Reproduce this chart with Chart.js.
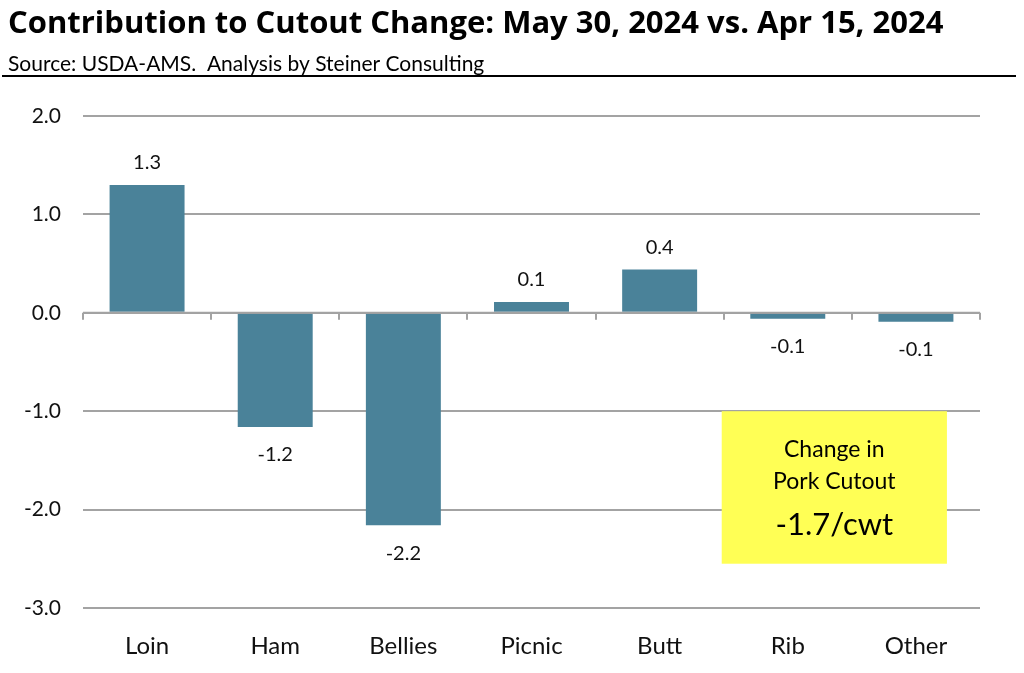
<!DOCTYPE html>
<html>
<head>
<meta charset="utf-8">
<script src="https://cdn.jsdelivr.net/npm/chart.js@4.4.1/dist/chart.umd.min.js"></script>
<style>
  html, body { margin: 0; padding: 0; background: #fff; }
  #wrap { width: 1024px; height: 673px; }
</style>
</head>
<body>
<div id="wrap"><canvas id="chart" width="1024" height="673"></canvas></div>
<script>
// Chart values
const categories = ['Loin', 'Ham', 'Bellies', 'Picnic', 'Butt', 'Rib', 'Other'];
const contributions = [1.30, -1.16, -2.16, 0.11, 0.44, -0.06, -0.09];
const yTicks = [2, 1, 0, -1, -2, -3];
const titleText = 'Contribution to Cutout Change: May 30, 2024 vs. Apr 15, 2024';
const subtitleText = 'Source: USDA-AMS.  Analysis by Steiner Consulting';
const calloutLines = ['Change in', 'Pork Cutout', '-1.7/cwt'];

const barColor = '#4a8299';
const gridColor = '#a3a3a3';
const bodyFont = "Lato, 'Open Sans', sans-serif";
const titleFont = "'Open Sans', sans-serif";

// title, source line and rule across the top
const headerPlugin = {
    id: 'header',
    afterDraw(chart) {
        const ctx = chart.ctx;
        ctx.save();
        ctx.fillStyle = '#000';
        ctx.textAlign = 'left';
        ctx.textBaseline = 'alphabetic';
        ctx.font = `bold 31px ${titleFont}`;
        ctx.fillText(titleText, 8, 33);
        ctx.font = `21px ${bodyFont}`;
        ctx.fillText(subtitleText, 8, 71);
        ctx.strokeStyle = '#000';
        ctx.lineWidth = 2;
        ctx.beginPath();
        ctx.moveTo(2, 76);
        ctx.lineTo(1016, 76);
        ctx.stroke();
        ctx.restore();
    }
};

// tick marks between categories on the zero line
const zeroTicksPlugin = {
    id: 'zeroTicks',
    afterDatasetsDraw(chart) {
        const ctx = chart.ctx;
        const x = chart.scales.x;
        const y0 = chart.scales.y.getPixelForValue(0);
        const step = x.getPixelForValue(1) - x.getPixelForValue(0);
        ctx.save();
        ctx.strokeStyle = gridColor;
        ctx.lineWidth = 2;
        ctx.beginPath();
        ctx.moveTo(chart.chartArea.left, y0);
        ctx.lineTo(chart.chartArea.right, y0);
        for (let i = 0; i <= categories.length; i++) {
            const px = Math.round(x.getPixelForValue(0) - step / 2 + i * step);
            ctx.moveTo(px, y0);
            ctx.lineTo(px, y0 + 7);
        }
        ctx.stroke();
        ctx.restore();
    }
};

// value labels above / below each bar
const valueLabelsPlugin = {
    id: 'valueLabels',
    afterDatasetsDraw(chart) {
        const ctx = chart.ctx;
        const meta = chart.getDatasetMeta(0);
        ctx.save();
        ctx.font = `20px ${bodyFont}`;
        ctx.fillStyle = '#111';
        ctx.textAlign = 'center';
        ctx.textBaseline = 'middle';
        meta.data.forEach((bar, i) => {
            const v = contributions[i];
            const y = v >= 0 ? bar.y - 22 : bar.y + 28;
            ctx.fillText(v.toFixed(1), bar.x, y);
        });
        ctx.restore();
    }
};

// yellow callout box with the total change
const calloutPlugin = {
    id: 'callout',
    afterDraw(chart) {
        const ctx = chart.ctx;
        const x = chart.scales.x;
        const y = chart.scales.y;
        const step = x.getPixelForValue(1) - x.getPixelForValue(0);
        const left = x.getPixelForValue(5) - step / 2 - 2;
        const right = x.getPixelForValue(6) + 31;
        const top = y.getPixelForValue(-1);
        const bottom = y.getPixelForValue(-2.55);
        const cx = (left + right) / 2;
        ctx.save();
        ctx.fillStyle = '#ffff55';
        ctx.fillRect(left, top, right - left, bottom - top);
        ctx.fillStyle = '#000';
        ctx.textAlign = 'center';
        ctx.textBaseline = 'middle';
        ctx.font = `23px ${bodyFont}`;
        ctx.fillText(calloutLines[0], cx, top + 38);
        ctx.fillText(calloutLines[1], cx, top + 70);
        ctx.font = `31px ${bodyFont}`;
        ctx.fillText(calloutLines[2], cx, top + 114);
        ctx.restore();
    }
};

const ctx = document.getElementById('chart').getContext('2d');
const myChart = new Chart(ctx, {
    type: 'bar',
    data: {
        labels: categories,
        datasets: [{
            data: contributions,
            backgroundColor: barColor,
            borderWidth: 0,
            barPercentage: 1,
            categoryPercentage: 0.585
        }]
    },
    options: {
        responsive: false,
        animation: false,
        events: [],
        layout: { padding: { top: 116, right: 44, bottom: 0, left: 0 } },
        plugins: {
            legend: { display: false },
            tooltip: { enabled: false },
            title: { display: false }
        },
        scales: {
            x: {
                grid: { display: false, drawTicks: false },
                border: { display: false },
                ticks: {
                    color: '#111',
                    padding: 24,
                    font: { family: bodyFont, size: 24 }
                },
                afterFit(scale) { scale.height = 65; }
            },
            y: {
                min: -3,
                max: 2,
                afterBuildTicks(scale) {
                    scale.ticks = yTicks.map(v => ({ value: v }));
                },
                grid: {
                    color: gridColor,
                    lineWidth: 2,
                    drawTicks: false
                },
                border: { display: false },
                ticks: {
                    color: '#111',
                    padding: 22,
                    font: { family: bodyFont, size: 21 },
                    callback: v => v.toFixed(1)
                },
                afterFit(scale) { scale.width = 83; }
            }
        }
    },
    plugins: [headerPlugin, zeroTicksPlugin, valueLabelsPlugin, calloutPlugin]
});
</script>
</body>
</html>
